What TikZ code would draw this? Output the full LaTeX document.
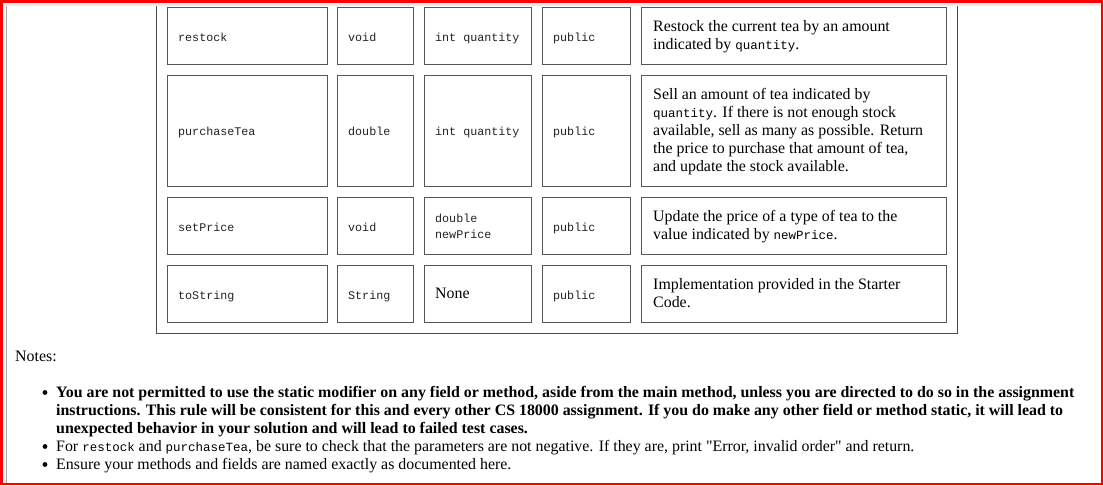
\documentclass[tikz,border=0pt]{standalone}
\usepackage{fontspec}
\setmainfont{Liberation Serif}
\setmonofont{Liberation Mono}
\definecolor{cellline}{HTML}{555555}
\definecolor{txt}{HTML}{222222}
\tikzset{
  cell/.style={draw=cellline,line width=1pt},
  mono/.style={anchor=base west,inner sep=0pt,font=\fontsize{11.7}{13}\ttfamily,text=txt},
  serif/.style={anchor=base west,inner sep=0pt,font=\fontsize{15.9}{17}\selectfont,text=black},
  bold/.style={serif,font=\fontsize{15.9}{17}\bfseries},
}
\newcommand{\tm}[1]{{\fontsize{12.5}{12}\ttfamily #1}}
\begin{document}
\begin{tikzpicture}[x=1pt,y=-1pt]
\useasboundingbox (0,0) rectangle (1103,485);
\fill[white] (0,0) rectangle (1103,485);
\fill[black!8] (0,1) rectangle (1103,6);
\draw[black!35,line width=1pt] (6,6) -- (6,485);
\draw[black!70,line width=1pt] (156,6) -- (156,333) -- (957,333) -- (957,6);
% cells
\foreach \ya/\yb in {7/64,75/186,197/254,265/322}{
  \foreach \xa/\xb in {167/327,337/413,424/531,542/630,641/946}{
    \draw[cell] (\xa,\ya) rectangle (\xb,\yb);
  }
}
% row texts
\node[mono] (n1) at (178,41) {restock};
\node[mono] (t1) at (348,41) {void};
\node[mono] (p1) at (435,41) {int quantity};
\node[mono] (a1) at (553,41) {public};
\node[serif] (d1a) at (653,31) {Restock the current tea by an amount};
\node[serif] (d1b) at (653,49) {indicated by \tm{quantity}.};

\node[mono] (n2) at (178,135) {purchaseTea};
\node[mono] (t2) at (348,135) {double};
\node[mono] (p2) at (435,135) {int quantity};
\node[mono] (a2) at (553,135) {public};
\node[serif] (d2a) at (653,99) {Sell an amount of tea indicated by};
\node[serif] (d2b) at (653,117) {\tm{quantity}. If there is not enough stock};
\node[serif] (d2c) at (653,135) {available, sell as many as possible. Return};
\node[serif] (d2d) at (653,153) {the price to purchase that amount of tea,};
\node[serif] (d2e) at (653,171) {and update the stock available.};

\node[mono] (n3) at (178,231) {setPrice};
\node[mono] (t3) at (348,231) {void};
\node[mono] (p3a) at (435,222) {double};
\node[mono] (p3b) at (435,238) {newPrice};
\node[mono] (a3) at (553,231) {public};
\node[serif] (d3a) at (653,221) {Update the price of a type of tea to the};
\node[serif] (d3b) at (653,239) {value indicated by \tm{newPrice}.};

\node[mono] (n4) at (178,299) {toString};
\node[mono] (t4) at (348,299) {String};
\node[serif] (p4) at (435,298) {None};
\node[mono] (a4) at (553,299) {public};
\node[serif] (d4a) at (653,289) {Implementation provided in the Starter};
\node[serif] (d4b) at (653,307) {Code.};

% notes
\node[serif] (notes) at (15,361) {Notes:};
\foreach \yy in {397,451,469}{\fill (45,\yy-4.5) circle (2.4);}
\node[bold] (b1) at (56,397) {You are not permitted to use the static modifier on any field or method, aside from the main method, unless you are directed to do so in the assignment};
\node[bold] (b2) at (56,415) {instructions. This rule will be consistent for this and every other CS 18000 assignment. If you do make any other field or method static, it will lead to};
\node[bold] (b3) at (56,433) {unexpected behavior in your solution and will lead to failed test cases.};
\node[serif] (b4) at (56,451) {For \tm{restock} and \tm{purchaseTea}, be sure to check that the parameters are not negative. If they are, print \textquotedbl Error, invalid order\textquotedbl{} and return.};
\node[serif] (b5) at (56,469) {Ensure your methods and fields are named exactly as documented here.};
\draw[red,line width=2.5pt] (1.25,1.25) rectangle (1101.75,483.75);
\end{tikzpicture}
\end{document}
